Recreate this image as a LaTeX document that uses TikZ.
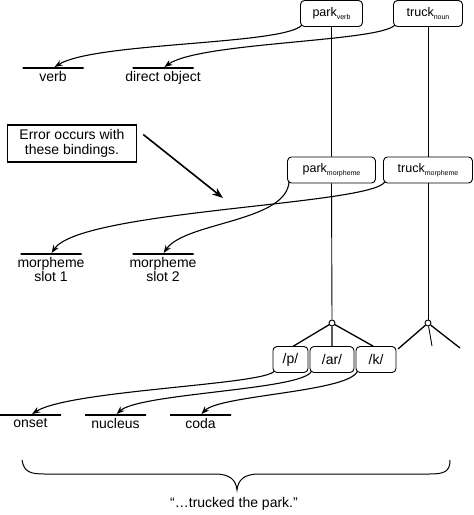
\documentclass[tikz,border=0pt]{standalone}
\usepackage{fontspec}
\setmainfont{Liberation Sans}
\usetikzlibrary{arrows.meta}
\newcommand{\lexsub}[1]{\raisebox{-2.5pt}{\fontsize{7}{8}\selectfont #1}}
\tikzset{
  unit/.style={draw,line width=0.9pt,rounded corners=4pt,fill=white,inner sep=0pt,minimum height=26pt,font=\fontsize{12.5}{14}\selectfont},
  phone/.style={unit,font=\fontsize{14}{15}\selectfont},
  slot/.style={draw,line width=2pt,line join=bevel,inner sep=0pt,minimum width=61pt,minimum height=0pt,
    label={[font=\fontsize{14}{14}\selectfont,align=center,inner sep=1.5pt]below:{#1}}},
  joint/.style={circle,draw,line width=0.9pt,fill=white,inner sep=0pt,minimum size=6pt},
  bind/.style={-{Stealth[length=8pt,width=6pt]},line width=1.1pt},
  leg/.style={line width=1.3pt},
}
\begin{document}
\begin{tikzpicture}[x=1pt,y=-1pt,line width=0.9pt]
\useasboundingbox (0,0) rectangle (474,515);
% lexical units
\node[unit,minimum width=62pt] (parkverb) at (331.5,13.5) {park\lexsub{verb}};
\node[unit,minimum width=69pt] (trucknoun) at (428,13.5) {truck\lexsub{noun}};
\node[unit,minimum width=88pt] (parkmorph) at (331.5,170) {park\lexsub{morpheme}};
\node[unit,minimum width=89pt] (truckmorph) at (428,170) {truck\lexsub{morpheme}};
\node[phone,minimum width=35pt] (p) at (290.5,359.5) {/p/};
\node[phone,minimum width=44pt] (ar) at (332,359.5) {/ar/};
\node[phone,minimum width=40pt] (k) at (376,359.5) {/k/};
% slots
\node[slot=verb] (verb) at (53,68) {};
\node[slot=direct object] (dirobj) at (163,68) {};
\node[slot={morpheme\\slot 1}] (slotone) at (51,254) {};
\node[slot={morpheme\\slot 2}] (slottwo) at (163,254) {};
\node[slot=onset] (onset) at (30.5,415) {};
\node[slot=nucleus] (nucleus) at (115.5,415) {};
\node[slot=coda] (coda) at (200.5,415) {};
% note
\node[draw,line width=1.5pt,minimum width=129pt,minimum height=37pt,align=center,inner sep=2pt,
  font=\fontsize{14}{15}\selectfont] (error) at (72,143.5) {Error occurs with\\these bindings.};
\coordinate (errtip) at (223,198);
\draw[-{Stealth[length=11pt,width=8pt]},line width=1.6pt] ([xshift=6pt,yshift=9pt]error.east) -- (errtip);
% joints and legs
\node[joint] (pkjoint) at (332,323) {};
\node[joint] (trjoint) at (428,323) {};
\coordinate (legl) at (398,349);
\coordinate (legm) at (432,346);
\coordinate (legr) at (460,348);
\draw (parkverb.south) -- (parkmorph.north) (parkmorph.south) -- (pkjoint.north);
\draw (trucknoun.south) -- (truckmorph.north) (truckmorph.south) -- (trjoint.north);
\draw[leg] (pkjoint) -- ([xshift=3pt]p.north) (pkjoint) -- (ar.north) (pkjoint) -- ([xshift=-3pt]k.north);
\draw[leg] (trjoint) -- (legl) (trjoint) -- (legr);
\draw (trjoint) -- (legm);
% bindings
\draw[bind] ([shift={(2pt,2pt)}]parkverb.south west) .. controls (285,45) and (95,42) .. ([yshift=4pt]verb);
\draw[bind] ([shift={(2pt,2pt)}]trucknoun.south west) .. controls (380,42) and (200,42) .. ([yshift=4pt]dirobj);
\draw[bind] ([shift={(2pt,2pt)}]parkmorph.south west) .. controls (287,222) and (185,222) .. ([shift={(4pt,4pt)}]slottwo);
\draw[bind] ([shift={(2pt,2pt)}]truckmorph.south west) .. controls (375,205) and (80,210) .. ([yshift=4pt]slotone);
\draw[bind] ([shift={(2pt,2pt)}]p.south west) .. controls (265,385) and (70,390) .. ([shift={(2pt,4pt)}]onset);
\draw[bind] ([shift={(2pt,2pt)}]ar.south west) .. controls (305,390) and (140,393) .. ([shift={(2pt,4pt)}]nucleus);
\draw[bind] ([shift={(2pt,2pt)}]k.south west) .. controls (350,392) and (220,395) .. ([shift={(2pt,4pt)}]coda);
% brace
\draw[line width=1pt] (22,460) .. controls (24,472) and (30,474) .. (45,474) -- (215,474)
  .. controls (230,474) and (236,480) .. (237,490) .. controls (238,480) and (244,474) .. (259,474)
  -- (429,474) .. controls (444,474) and (450,472) .. (450,460);
\node[font=\fontsize{14}{15}\selectfont] (quote) at (234,504) {“…trucked the park.”};
\end{tikzpicture}
\end{document}
